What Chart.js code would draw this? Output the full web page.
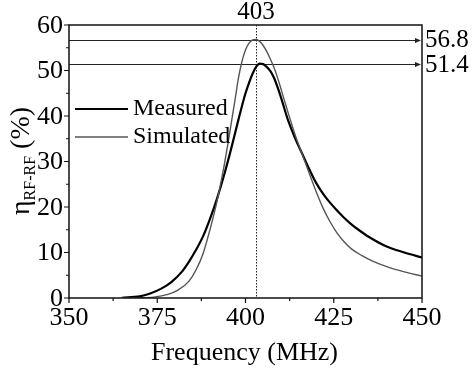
<!DOCTYPE html>
<html>
<head>
<meta charset="utf-8">
<script src="https://cdn.jsdelivr.net/npm/chart.js@4"></script>
<style>
  html, body { margin: 0; padding: 0; background: #fff; }
  #wrap { width: 474px; height: 369px; }
</style>
</head>
<body>
<div id="wrap"><canvas id="myChart" width="474" height="369"></canvas></div>
<script>
// Data
const measuredFreq = [365, 370, 373, 376, 379, 382, 384, 386, 388, 390, 392, 394, 396, 398, 400, 401, 402, 403, 404, 405, 406, 407, 408, 409, 410, 412, 414, 416, 418, 420, 422, 424, 426, 428, 430, 432, 435, 440, 445, 450];
const measuredEff  = [0.05, 0.35, 1.0, 2.0, 3.5, 5.8, 8.0, 10.6, 13.6, 17.5, 22, 27.2, 33, 39.2, 45, 47.3, 49.3, 50.8, 51.5, 51.4, 50.8, 49.9, 48.5, 46.5, 44.2, 39.2, 35.2, 31.8, 28.4, 25.3, 22.9, 20.9, 19.2, 17.6, 16.2, 15.0, 13.4, 11.3, 10.0, 8.9];
const simFreq = [365, 370, 374, 378, 381, 384, 386, 388, 390, 391, 392, 393, 394, 395, 396, 397, 398, 399, 400, 401, 402, 403, 404, 405, 406, 407, 408, 409, 410, 411, 412, 413, 414, 416, 418, 420, 422, 424, 426, 428, 430, 433, 436, 440, 445, 450];
const simEff  = [0, 0.05, 0.2, 0.8, 1.8, 3.7, 6.2, 9.8, 15.2, 18.2, 21.5, 25.3, 29.3, 33.8, 38.6, 43.4, 48.3, 52, 54.5, 56, 56.7, 56.8, 56.4, 55.5, 54.2, 52.6, 50.8, 48.6, 46.1, 43.5, 40.9, 38.4, 36.0, 31.7, 27.5, 23.4, 19.7, 16.7, 14.2, 12.3, 10.8, 9.3, 8.1, 6.9, 5.75, 4.8];
const xTicks = [350, 375, 400, 425, 450];
const yTicks = [0, 10, 20, 30, 40, 50, 60];
const peakFreq = 403;
const peakLevels = [56.8, 51.4];

const FONT = '"Liberation Serif", "Times New Roman", serif';

function toPts(xs, ys) {
    return xs.map((v, i) => ({ x: v, y: ys[i] }));
}

const extras = {
    id: 'extras',
    beforeDatasetsDraw(chart) {
        const { ctx, chartArea: a, scales: { x, y } } = chart;
        ctx.save();
        // peak level lines with arrows
        ctx.strokeStyle = '#222';
        ctx.fillStyle = '#222';
        ctx.lineWidth = 1;
        peakLevels.forEach(v => {
            const py = Math.round(y.getPixelForValue(v)) + 0.5;
            ctx.beginPath();
            ctx.moveTo(a.left, py);
            ctx.lineTo(a.right - 2, py);
            ctx.stroke();
            ctx.beginPath();
            ctx.moveTo(a.right - 1, py);
            ctx.lineTo(a.right - 7, py - 2.5);
            ctx.lineTo(a.right - 7, py + 2.5);
            ctx.closePath();
            ctx.fill();
        });
        // dotted line at peak frequency
        const px = Math.round(x.getPixelForValue(peakFreq)) + 0.5;
        ctx.setLineDash([1.5, 1.5]);
        ctx.beginPath();
        ctx.moveTo(px, a.top);
        ctx.lineTo(px, a.bottom);
        ctx.stroke();
        ctx.restore();
    },
    afterDraw(chart) {
        const { ctx, chartArea: a, scales: { x, y } } = chart;
        ctx.save();
        // frame
        ctx.strokeStyle = '#111';
        ctx.lineWidth = 1.5;
        ctx.strokeRect(a.left, a.top, a.right - a.left, a.bottom - a.top);

        // ticks (major + minor), outward on left and bottom
        ctx.lineWidth = 1.2;
        ctx.beginPath();
        for (let v = 0; v <= 60; v += 5) {
            const py = y.getPixelForValue(v);
            const len = v % 10 === 0 ? 5 : 3;
            ctx.moveTo(a.left, py);
            ctx.lineTo(a.left - len, py);
        }
        for (let v = 350; v <= 450; v += 12.5) {
            const px = x.getPixelForValue(v);
            const len = v % 25 === 0 ? 5 : 3;
            ctx.moveTo(px, a.bottom);
            ctx.lineTo(px, a.bottom + len);
        }
        ctx.stroke();

        ctx.fillStyle = '#000';
        ctx.font = '26px ' + FONT;
        // y tick labels
        ctx.textAlign = 'right';
        ctx.textBaseline = 'middle';
        yTicks.forEach(v => ctx.fillText(String(v), a.left - 6, y.getPixelForValue(v) + 1));
        // x tick labels
        ctx.textAlign = 'center';
        ctx.textBaseline = 'top';
        xTicks.forEach(v => ctx.fillText(String(v), x.getPixelForValue(v), a.bottom + 7));

        // x title
        ctx.textBaseline = 'middle';
        ctx.fillText('Frequency (MHz)', (a.left + a.right) / 2 - 1, 353);

        // peak labels
        ctx.font = '25px ' + FONT;
        ctx.textBaseline = 'middle';
        ctx.fillText(String(peakFreq), x.getPixelForValue(peakFreq), 12);
        ctx.textAlign = 'left';
        peakLevels.forEach(v => ctx.fillText(v.toFixed(1), a.right + 3, y.getPixelForValue(v) + 1));

        // y title with subscript
        ctx.translate(29, 161);
        ctx.rotate(-Math.PI / 2);
        ctx.textBaseline = 'alphabetic';
        const big = '28px ' + FONT, small = '16px ' + FONT;
        ctx.font = big;
        const w1 = ctx.measureText('\u03b7').width;
        const w3 = ctx.measureText(' (%)').width;
        ctx.font = small;
        const w2 = ctx.measureText('RF-RF').width;
        let cx = -(w1 + w2 + w3) / 2;
        ctx.font = big;
        ctx.fillText('\u03b7', cx, 0);
        cx += w1;
        ctx.font = small;
        ctx.fillText('RF-RF', cx, 6);
        cx += w2;
        ctx.font = big;
        ctx.fillText(' (%)', cx, 0);
        ctx.restore();

        // legend
        ctx.save();
        ctx.font = '24px ' + FONT;
        ctx.textAlign = 'left';
        ctx.textBaseline = 'middle';
        ctx.fillStyle = '#000';
        const items = [
            { label: 'Measured', color: '#000', width: 2, y: 109 },
            { label: 'Simulated', color: '#555', width: 1.4, y: 137 }
        ];
        items.forEach(it => {
            ctx.strokeStyle = it.color;
            ctx.lineWidth = it.width;
            ctx.beginPath();
            ctx.moveTo(75, it.y);
            ctx.lineTo(128, it.y);
            ctx.stroke();
            ctx.fillText(it.label, 133, it.y);
        });
        ctx.restore();
    }
};

const ctx = document.getElementById('myChart').getContext('2d');
const chart = new Chart(ctx, {
    type: 'scatter',
    data: {
        datasets: [{
            label: 'Simulated',
            data: toPts(simFreq, simEff),
            showLine: true,
            borderColor: '#555',
            borderWidth: 1.4,
            pointRadius: 0,
            cubicInterpolationMode: 'monotone'
        }, {
            label: 'Measured',
            data: toPts(measuredFreq, measuredEff),
            showLine: true,
            borderColor: '#000',
            borderWidth: 2.2,
            pointRadius: 0,
            cubicInterpolationMode: 'monotone'
        }]
    },
    options: {
        responsive: false,
        animation: false,
        layout: { padding: { left: 0, right: 52, top: 25, bottom: 0 } },
        plugins: { legend: { display: false }, tooltip: { enabled: false } },
        scales: {
            x: {
                type: 'linear', min: 350, max: 450,
                grid: { display: false },
                border: { display: false },
                ticks: { display: false, stepSize: 25 },
                afterFit: s => { s.height = 71; }
            },
            y: {
                min: 0, max: 60,
                grid: { display: false },
                border: { display: false },
                ticks: { display: false, stepSize: 10 },
                afterFit: s => { s.width = 69; }
            }
        }
    },
    plugins: [extras]
});
</script>
</body>
</html>
